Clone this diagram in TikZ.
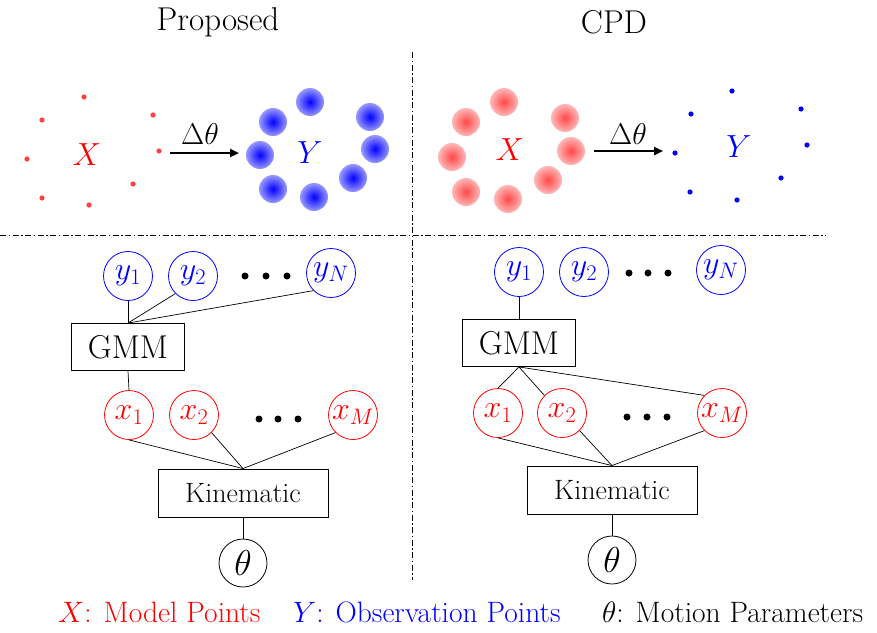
\RequirePackage{fix-cm}
\documentclass[tikz,border=0pt]{standalone}
\usetikzlibrary{arrows.meta}
\begin{document}
\begin{tikzpicture}[x=1pt,y=-1pt,
  every node/.style={inner sep=0pt},
  ynode/.style={circle,draw=blue,text=blue,minimum size=49pt,line width=0.8pt,font=\fontsize{32}{34}\selectfont},
  xnode/.style={circle,draw=red,text=red,minimum size=49pt,line width=0.8pt,font=\fontsize{32}{34}\selectfont},
  thnode/.style={circle,draw=black,minimum size=48pt,line width=0.8pt,font=\fontsize{36}{38}\selectfont},
  gmmbox/.style={draw,line width=0.9pt,minimum width=113pt,minimum height=47pt,font=\fontsize{33}{36}\selectfont},
  kinbox/.style={draw,line width=0.9pt,minimum width=170pt,minimum height=48pt,font=\fontsize{28}{30}\selectfont},
  link/.style={line width=0.7pt},
  sepline/.style={line width=0.7pt,dash pattern=on 6pt off 2.5pt on 1.5pt off 2.5pt},
  ellip/.style={fill=black,circle,minimum size=7pt},
  smallred/.style={fill=red!75},
  smallblue/.style={fill=blue},
  blueblob/.style={inner color=blue,outer color=blue!40},
  redblob/.style={inner color=red!72,outer color=red!28},
  setlabel/.style={font=\fontsize{32}{34}\selectfont},
  dlabel/.style={font=\fontsize{30}{32}\selectfont},
  motion/.style={line width=2.4pt,-{Triangle[length=9pt,width=8pt]}},
  title/.style={font=\fontsize{33}{38}\selectfont},
  legend/.style={font=\fontsize{29.5}{32}\selectfont,anchor=base west}]
\useasboundingbox (0,0) rectangle (877,632);

% titles
\node[title] (tP) at (218,22) {Proposed};
\node[title] (tC) at (614,22) {CPD};

% separators
\coordinate (v1) at (412,52); \coordinate (v2) at (412,580);
\coordinate (h1) at (0,235); \coordinate (h2) at (826,235);
\draw[sepline] (v1) -- (v2);
\draw[sepline] (h1) -- (h2);

% ---- top left
\foreach \p in {(84,97),(42,120),(153,115),(27,159),(159,151),(133,184),(42,198),(89,205)}
  \fill[smallred] \p circle (2.6pt);
\foreach \p in {(310,102),(273,122),(370,117),(260,155),(375,149),(353,178),(273,189),(314,197)}
  \shade[blueblob] \p circle (14pt);
\node[setlabel,text=red] (XL) at (87,155) {$X$};
\node[setlabel,text=blue] (YL) at (310,153) {$Y$};
\coordinate (aL1) at (170,153); \coordinate (aL2) at (239,153);
\draw[motion] (aL1) -- (aL2);
\node[dlabel] (dL) at (200,134) {$\Delta\theta$};

% ---- top right
\foreach \p in {(504,102),(466,122),(565,118),(452,157),(571,151),(548,180),(466,192),(508,199)}
  \shade[redblob] \p circle (14pt);
\foreach \p in {(732,91),(691,114),(801,109),(675,153),(807,145),(781,178),(690,192),(737,200)}
  \fill[smallblue] \p circle (2.6pt);
\node[setlabel,text=red] (XR) at (510,150) {$X$};
\node[setlabel,text=blue] (YR) at (739,147) {$Y$};
\coordinate (aR1) at (594,151); \coordinate (aR2) at (663,151);
\draw[motion] (aR1) -- (aR2);
\node[dlabel] (dR) at (628,134) {$\Delta\theta$};

% ---- bottom left graph
\node[ynode] (y1L) at (128,276) {$y_1$};
\node[ynode] (y2L) at (193,276) {$y_2$};
\node[ynode] (yNL) at (331,273) {$y_N$};
\node[ellip] (dyL1) at (245,276) {};
\node[ellip] (dyL2) at (266,276) {};
\node[ellip] (dyL3) at (287,276) {};
\node[gmmbox] (gL) at (128,347) {GMM};
\node[xnode] (x1L) at (129,415) {$x_1$};
\node[xnode] (x2L) at (194,415) {$x_2$};
\node[xnode] (xML) at (353,415) {$x_M$};
\node[ellip] (dxL1) at (259,419) {};
\node[ellip] (dxL2) at (278,419) {};
\node[ellip] (dxL3) at (298,419) {};
\node[kinbox] (kL) at (243,493) {Kinematic};
\node[thnode] (thL) at (243,563) {$\theta$};

\draw[link] (gL.north) -- (y1L.south);
\draw[link] (gL.north) -- (y2L.south west);
\draw[link] (gL.north) -- (yNL.south west);
\draw[link] (gL.south) -- (x1L.north);
\draw[link] (kL.north) -- (x1L.south);
\draw[link] (kL.north) -- (x2L.south east);
\draw[link] (kL.north) -- (xML.south west);
\draw[link] (kL.south) -- (thL.north);

% ---- bottom right graph
\node[ynode] (y1R) at (519,272) {$y_1$};
\node[ynode] (y2R) at (584,272) {$y_2$};
\node[ynode] (yNR) at (721,270) {$y_N$};
\node[ellip] (dyR1) at (629,273) {};
\node[ellip] (dyR2) at (648,273) {};
\node[ellip] (dyR3) at (668,273) {};
\node[gmmbox] (gR) at (519,343) {GMM};
\node[xnode] (x1R) at (498,413) {$x_1$};
\node[xnode] (x2R) at (562,413) {$x_2$};
\node[xnode] (xMR) at (722,413) {$x_M$};
\node[ellip] (dxR1) at (627,417) {};
\node[ellip] (dxR2) at (647,417) {};
\node[ellip] (dxR3) at (667,417) {};
\node[kinbox] (kR) at (612,490) {Kinematic};
\node[thnode] (thR) at (612,560) {$\theta$};

\draw[link] (gR.north) -- (y1R.south);
\draw[link] (gR.south) -- (x1R.north);
\draw[link] (gR.south) -- (x2R.north west);
\draw[link] (gR.south) -- (xMR.north west);
\draw[link] (kR.north) -- (x1R.south);
\draw[link] (kR.north) -- (x2R.south east);
\draw[link] (kR.north) -- (xMR.south west);
\draw[link] (kR.south) -- (thR.north);

% ---- legend
\node[legend,text=red] (lgX) at (58,622) {$X$: Model Points};
\node[legend,text=blue] (lgY) at (293,622) {$Y$: Observation Points};
\node[legend] (lgT) at (602,622) {$\theta$: Motion Parameters};
\end{tikzpicture}
\end{document}
